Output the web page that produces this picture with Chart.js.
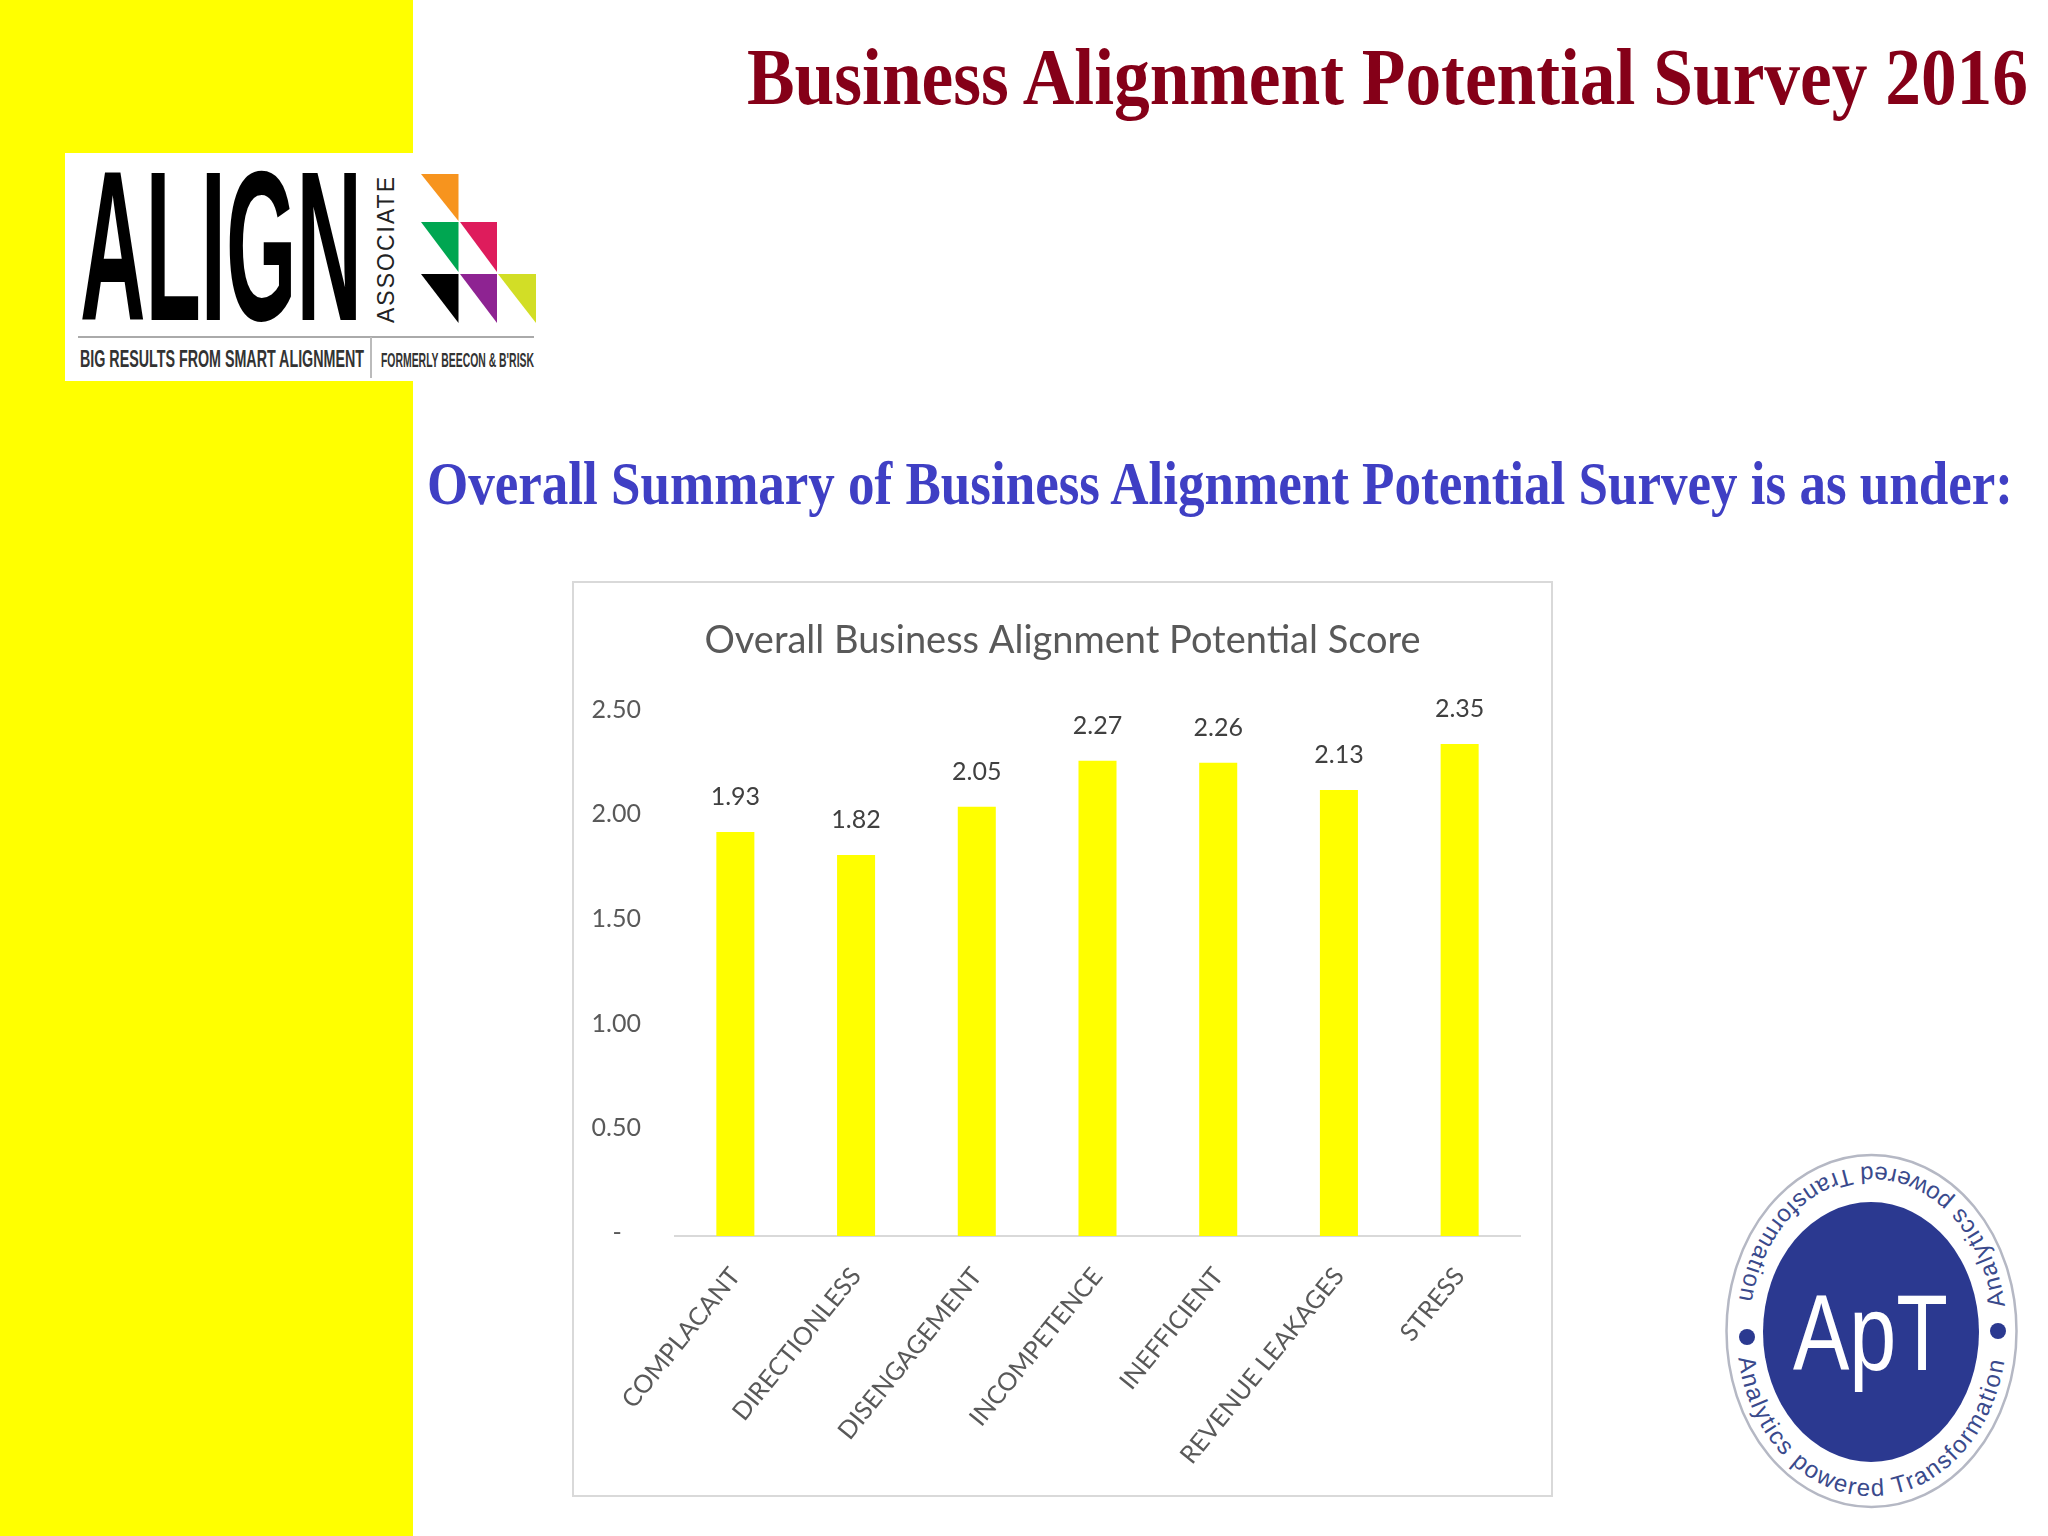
<!DOCTYPE html>
<html>
<head>
<meta charset="utf-8">
<title>Business Alignment Potential Survey 2016</title>
<script src="https://cdn.jsdelivr.net/npm/chart.js@4"></script>
<style>
html, body { margin: 0; padding: 0; background: #fff; }
#page { position: relative; width: 2048px; height: 1536px; overflow: hidden; background: #fff; }
#strip { position: absolute; left: 0; top: 0; width: 413px; height: 1536px; background: #ffff00; }
#art { position: absolute; left: 0; top: 0; }
#card { position: absolute; left: 572px; top: 581px; width: 981px; height: 916px; box-sizing: border-box; border: 2px solid #d9d9d9; background: #fff; }
#card canvas { position: absolute; left: 0; top: 0; }
</style>
</head>
<body>
<div id="page">
  <div id="strip"></div>
  <svg id="art" width="2048" height="1536" viewBox="0 0 2048 1536">
    <text x="747" y="104" font-family="Liberation Serif" font-weight="bold" font-size="80" fill="#850018" textLength="1281" lengthAdjust="spacingAndGlyphs">Business Alignment Potential Survey 2016</text>
    <text x="427" y="504" font-family="Liberation Serif" font-weight="bold" font-size="62" fill="#3f3fc4" textLength="1586" lengthAdjust="spacingAndGlyphs">Overall Summary of Business Alignment Potential Survey is as under:</text>

    <!-- align logo -->
    <rect x="65" y="153" width="472" height="228" fill="#fff"/>
    <text x="80" y="320" font-family="Liberation Sans" font-weight="bold" font-size="214" fill="#000" textLength="282" lengthAdjust="spacingAndGlyphs">ALIGN</text>
    <text transform="translate(394 323) rotate(-90)" font-family="Liberation Sans" font-size="23" fill="#222" textLength="146" lengthAdjust="spacing">ASSOCIATE</text>
    <polygon points="421,174 458.5,174 458.5,221" fill="#f7941e"/>
    <polygon points="421,222 458.5,222 458.5,272" fill="#00a651"/>
    <polygon points="460,222 497,222 497,272" fill="#de1c5c"/>
    <polygon points="421,274 458.5,274 458.5,323" fill="#000"/>
    <polygon points="460,274 497,274 497,323" fill="#8e2392"/>
    <polygon points="498,274 536,274 536,323" fill="#d2de26"/>
    <line x1="78" y1="337" x2="534" y2="337" stroke="#aaa" stroke-width="2"/>
    <line x1="371" y1="337" x2="371" y2="378" stroke="#bbb" stroke-width="2"/>
    <text x="80" y="367" font-family="Liberation Sans" font-weight="bold" font-size="23" fill="#333" textLength="284" lengthAdjust="spacingAndGlyphs">BIG RESULTS FROM SMART ALIGNMENT</text>
    <text x="381" y="367" font-family="Liberation Sans" font-weight="bold" font-size="21" fill="#333" textLength="153" lengthAdjust="spacingAndGlyphs">FORMERLY BEECON &amp; B'RISK</text>

    <!-- apt seal -->
    <ellipse cx="1871.5" cy="1331" rx="145" ry="176" fill="#fff" stroke="#b5b8c4" stroke-width="2.5"/>
    <ellipse cx="1871" cy="1332" rx="108" ry="130" fill="#2b3990"/>
    <circle cx="1747" cy="1337" r="8" fill="#2b3990"/>
    <circle cx="1998" cy="1331" r="8" fill="#2b3990"/>
    <text x="1793" y="1370" font-family="Liberation Sans" font-size="107" fill="#fff" textLength="155" lengthAdjust="spacingAndGlyphs">ApT</text>
    <path id="sealBottom" d="M 1738.3 1358 A 135 165 0 0 0 2004.7 1358" fill="none"/>
    <path id="sealTop" d="M 2004.9 1306 A 135 165 0 0 0 1738.1 1306" fill="none"/>
    <text font-family="Liberation Sans" font-size="24" fill="#3a4a8c"><textPath href="#sealBottom" textLength="415" lengthAdjust="spacing">Analytics powered Transformation</textPath></text>
    <text font-family="Liberation Sans" font-size="24" fill="#3a4a8c"><textPath href="#sealTop" textLength="415" lengthAdjust="spacing">Analytics powered Transformation</textPath></text>
  </svg>
  <div id="card"><canvas id="myChart" width="977" height="912"></canvas></div>
</div>

<script>
var categories = ['COMPLACANT', 'DIRECTIONLESS', 'DISENGAGEMENT', 'INCOMPETENCE', 'INEFFICIENT', 'REVENUE LEAKAGES', 'STRESS'];
var scores = [1.93, 1.82, 2.05, 2.27, 2.26, 2.13, 2.35];
var yTicks = [0, 0.5, 1, 1.5, 2, 2.5];
var chartTitle = 'Overall Business Alignment Potential Score';

var labelFont = 'Lato';

// Prints the value over each bar
var barValues = {
    id: 'barValues',
    afterDatasetsDraw: function (chart) {
        var ctx = chart.ctx;
        var meta = chart.getDatasetMeta(0);
        ctx.save();
        ctx.font = '25px ' + labelFont;
        ctx.fillStyle = '#404040';
        ctx.textAlign = 'center';
        ctx.textBaseline = 'middle';
        meta.data.forEach(function (bar, i) {
            ctx.fillText(scores[i].toFixed(2), bar.x, bar.y - 35);
        });
        ctx.restore();
    }
};

var ctx = document.getElementById('myChart').getContext('2d');
var myChart = new Chart(ctx, {
    type: 'bar',
    data: {
        labels: categories,
        datasets: [{
            data: scores,
            backgroundColor: '#ffff00',
            barPercentage: 0.315,
            categoryPercentage: 1,
            yAxisID: 'y'
        }]
    },
    options: {
        responsive: false,
        animation: false,
        layout: { padding: { left: 10, right: 10 } },
        plugins: {
            legend: { display: false },
            tooltip: { enabled: false },
            title: {
                display: true,
                text: chartTitle,
                color: '#595959',
                font: { family: labelFont, size: 38, weight: 'normal' },
                padding: { top: 35, bottom: 49 }
            }
        },
        scales: {
            x: {
                afterFit: function (axis) { axis.height = 259; },
                grid: { display: false, drawTicks: false },
                border: { color: '#d9d9d9', width: 2 },
                ticks: {
                    color: '#595959',
                    font: { family: labelFont, size: 25 },
                    minRotation: 51,
                    maxRotation: 51,
                    padding: 26,
                    autoSkip: false
                }
            },
            // bars are drawn on this one, its labels are off. Sits on the right as a small gap
            y: {
                position: 'right',
                min: 0,
                max: 2.5,
                afterFit: function (axis) { axis.width = 21; },
                grid: { display: false, drawTicks: false },
                border: { display: false },
                ticks: { display: false }
            },
            // tick labels only, they sit a few pixels above the true value in the picture
            yLabels: {
                position: 'left',
                min: -0.015,
                max: 2.485,
                afterFit: function (axis) { axis.width = 91; },
                afterBuildTicks: function (axis) {
                    axis.ticks = yTicks.map(function (v) { return { value: v }; });
                },
                grid: { display: false, drawTicks: false },
                border: { display: false },
                ticks: {
                    color: '#595959',
                    font: { family: labelFont, size: 25 },
                    padding: 34,
                    callback: function (v) {
                        return v === 0 ? '-\u00a0\u00a0\u00a0' : v.toFixed(2);
                    }
                }
            }
        }
    },
    plugins: [barValues]
});
</script>
</body>
</html>
